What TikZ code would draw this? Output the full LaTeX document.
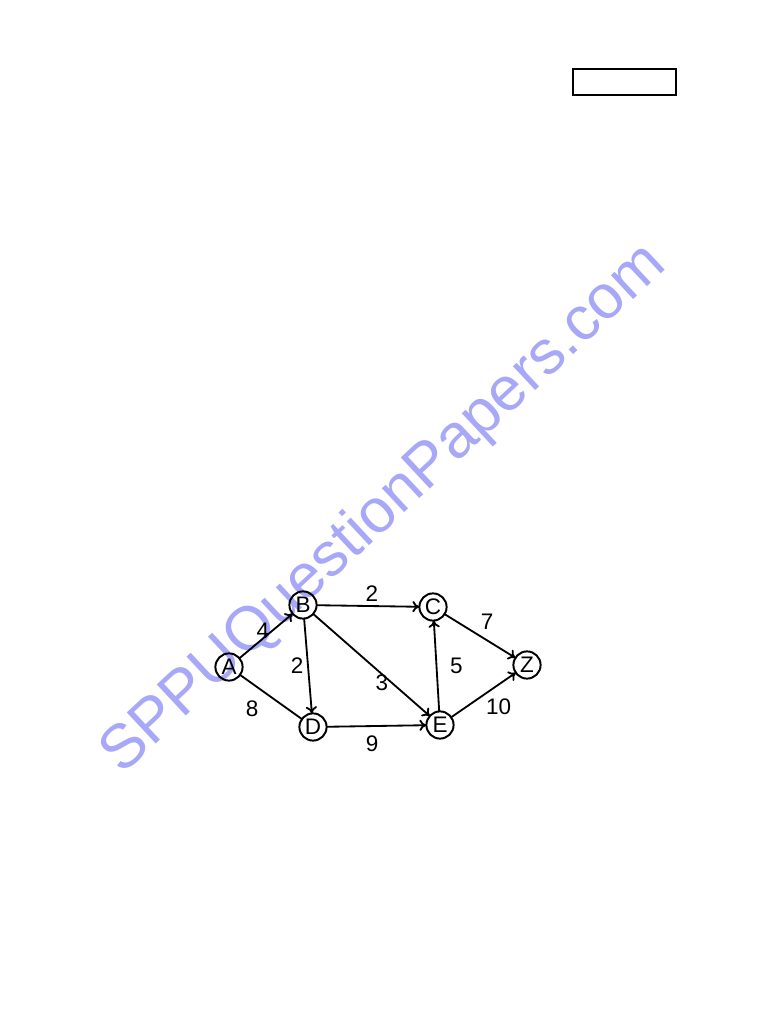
\documentclass[tikz,border=0pt]{standalone}
\usepackage{fontspec}
\setmainfont{Liberation Sans}
\usepackage{tikz}
\usepackage{tkz-berge}
\usetikzlibrary{arrows.meta}
\definecolor{wmblue}{RGB}{168,168,248}

\begin{document}
\begin{tikzpicture}
\useasboundingbox (0,0) rectangle (19.2,25.6);
\node[draw,line width=1.1pt,minimum width=2.575cm,minimum height=0.65cm] (box) at (15.61,23.55) {};
\node[rotate=43,anchor=base west,inner sep=0pt,text=wmblue,font=\fontsize{44}{44}\selectfont] (wm) at (3.05,6.2) {SPPUQuestionPapers.com};

\tikzstyle{VertexStyle}=[draw,circle,line width=1.4pt,minimum size=0.68cm,inner sep=0pt,font=\fontsize{16}{16}\selectfont]
\Vertex[x=5.725,y=8.925,L=A]{A}
\Vertex[x=7.575,y=10.475,L=B]{B}
\Vertex[x=10.825,y=10.425,L=C]{C}

\Vertex[x=7.825,y=7.425,L=D]{D}
\Vertex[x=11.0,y=7.475,L=E]{E}
\Vertex[x=13.175,y=8.975,L=Z]{Z}

\tikzstyle{LabelStyle}=[fill=none,inner sep=0pt,font=\fontsize{16}{16}\selectfont]
\tikzstyle{EdgeStyle}=[-{To[length=5pt,width=8pt]},line width=1.3pt]

\Edge[label=4,labelstyle={fill=none,xshift=-0.08cm,yshift=0.12cm}](A)(B)
\Edge[label=2,labelstyle={fill=none,xshift=0.1cm,yshift=0.3cm}](B)(C)
\Edge[label=2,labelstyle={fill=none,xshift=-0.27cm,yshift=0cm}](B)(D)
\Edge[label=3,labelstyle={fill=none,xshift=0.26cm,yshift=-0.45cm}](B)(E)
\Edge[label=5,labelstyle={fill=none,xshift=0.5cm,yshift=0cm}](E)(C)
\Edge[label=7,labelstyle={fill=none,xshift=0.18cm,yshift=0.35cm}](C)(Z)
\Edge[label=9,labelstyle={fill=none,xshift=-0.11cm,yshift=-0.44cm}](D)(E)
\Edge[label=10,labelstyle={fill=none,xshift=0.38cm,yshift=-0.3cm}](E)(Z)

\tikzstyle{EdgeStyle}=[line width=1.3pt]
\Edge[label=8,labelstyle={fill=none,xshift=-0.47cm,yshift=-0.3cm}](A)(D)

\end{tikzpicture}
\end{document}
